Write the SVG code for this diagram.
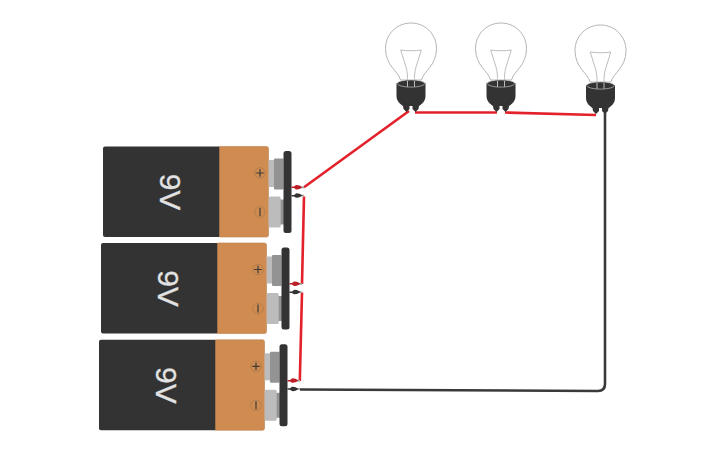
<svg xmlns="http://www.w3.org/2000/svg" xmlns:xlink="http://www.w3.org/1999/xlink" width="725" height="453" viewBox="0 0 725 453">
<style>
.body{fill:#333333}
.case{fill:#d08c50;stroke:#b98051;stroke-width:.6}
.lt{fill:#bcbcbc}
.gr{fill:#939393}
.bar{fill:#333333}
.sign{fill:none;stroke:#b07c4c;stroke-width:.9}
.ink{stroke:#3a3a3a;stroke-width:1.2;fill:none}
.label{font-family:"Liberation Sans",Arial,sans-serif;font-size:30px;fill:#e2e2e2;stroke:#e2e2e2;stroke-width:.3}
.glass{fill:#fff;stroke:#b4b4b4;stroke-width:1}
.fil{fill:none;stroke:#bdbdbd;stroke-width:1}
.sock{fill:#333333}
.rim{fill:#333333;stroke:#d8d8d8;stroke-width:.6}
.red{fill:none;stroke:#e3212b;stroke-width:2.6;stroke-linejoin:round}
.blk{fill:none;stroke:#3a3a3a;stroke-width:2.6;stroke-linejoin:round}
.clipr{fill:#bb1f26}
.clipb{fill:#333333}
.pad{fill:#a8a8a8}
</style>
<defs>
<g id="bat">
<rect class="body" x="0" y="0" width="118" height="90.500" rx="2"/>
<path class="case" d="M116.500 0H163.500Q165.500 0 165.500 2V88.500Q165.500 90.500 163.500 90.500H116.500Z"/>
<rect class="lt" x="165.700" y="13.500" width="6" height="27"/>
<rect class="gr" x="171" y="12" width="9.500" height="31" rx="1"/>
<rect class="gr" x="176" y="53" width="5.500" height="25"/>
<rect class="lt" x="165.700" y="50" width="12" height="31" rx="1.500"/>
<rect class="bar" x="180.500" y="4.500" width="8" height="82" rx="2.500"/>
<circle class="sign" cx="157" cy="26.500" r="5.300"/>
<path class="ink" d="M153.200 26.500H160.800M157 22.700V30.300"/>
<circle class="sign" cx="157" cy="65.500" r="5.300"/>
<path class="ink" d="M157 61.500V69.500"/>
<text class="label" transform="translate(56.500,45.500) rotate(90)" text-anchor="middle">9V</text>
<rect class="pad" x="197" y="40" width="4" height="1.800"/>
<rect class="pad" x="197" y="48.200" width="4" height="1.800"/>
<path class="clipr" d="M188.500 40.100H191L193 38.600Q196 38.200 199.500 40.800Q196 43.400 193 43L191 41.600H188.500Z"/>
<path class="clipb" d="M188.500 48.400H191L193 46.900Q196 46.500 199.500 49.100Q196 51.700 193 51.300L191 49.900H188.500Z"/>
</g>
<g id="bulb">
<path class="glass" d="M-10.500 57C-12.500 48 -25.500 43 -25.500 25.500C-25.500 11 -14 0 0 0C14 0 25.500 11 25.500 25.500C25.500 43 12.500 48 10.500 57Z"/>
<path class="fil" d="M-10.300 27C-5 28 5 28 10.300 27L5 44C3.500 49 3.500 53 3.500 58M-10.300 27L-5 44C-3.500 49 -3.500 53 -3.500 58"/>
<path class="sock" d="M-14.500 60V73C-14.500 78 -11 81 -8 83L-7.500 86L-4.500 89L-1.500 86L-1.500 83H1.500L1.500 86L4.500 89L7.500 86L8 83C11 81 14.500 78 14.500 73V60Z"/>
<ellipse class="rim" cx="0" cy="60.500" rx="13.800" ry="3.600"/>
<path class="fil" d="M-3.500 58V63.800M3.500 58V63.800"/>
</g>
</defs>
<g id="connectors">
<path class="red" d="M304 187.300L409 111"/>
<path class="red" d="M415 112.500H497"/>
<path class="red" d="M505 112.500L596 115"/>
<path class="red" d="M304 196.500L302 284"/>
<path class="red" d="M302 292.500L299.800 381"/>
<path class="blk" d="M300 389.500L598 391Q605 391 605 384V113"/>
</g>
<g id="battery-1"><use xlink:href="#bat" href="#bat" x="103" y="146.500"/></g>
<g id="battery-2"><use xlink:href="#bat" href="#bat" x="101" y="243"/></g>
<g id="battery-3"><use xlink:href="#bat" href="#bat" x="99" y="339.800"/></g>
<g id="bulb-1"><use xlink:href="#bulb" href="#bulb" x="411" y="23"/></g>
<g id="bulb-2"><use xlink:href="#bulb" href="#bulb" x="501" y="23"/></g>
<g id="bulb-3"><use xlink:href="#bulb" href="#bulb" x="600.500" y="25"/></g>
</svg>
